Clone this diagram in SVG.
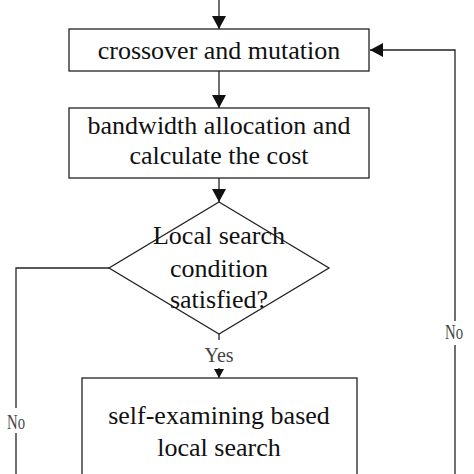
<svg xmlns="http://www.w3.org/2000/svg" width="474" height="474" viewBox="0 0 474 474">
<style>
.box{fill:#fff;stroke:#222;stroke-width:1.3}
.ln{fill:none;stroke:#222;stroke-width:1.3}
.t{font-family:"Liberation Serif",serif;font-size:26px;fill:#111;text-anchor:middle}
.lbl{font-family:"Liberation Serif",serif;font-size:20px;fill:#444;text-anchor:middle}
</style>
<defs>
<marker id="ah" markerWidth="14" markerHeight="14" refX="13" refY="7" orient="auto" markerUnits="userSpaceOnUse">
<path d="M0,0 L13,7 L0,14 Z" fill="#111"/>
</marker>
<marker id="ahs" markerWidth="10" markerHeight="10" refX="9" refY="5" orient="auto" markerUnits="userSpaceOnUse">
<path d="M0,0 L9,5 L0,10 Z" fill="#111"/>
</marker>
</defs>
<g id="connectors">
<path class="ln" d="M219,0 V29" marker-end="url(#ah)"/>
<path class="ln" d="M219,71 V108" marker-end="url(#ah)"/>
<path class="ln" d="M219,178 V202" marker-end="url(#ah)"/>
<path class="ln" d="M219,334 V340"/>
<path class="ln" d="M219,368 V378" marker-end="url(#ahs)"/>
<path class="ln" d="M109,268 H16 V408"/>
<path class="ln" d="M16,433 V474"/>
<path class="ln" d="M455,474 V345"/>
<path class="ln" d="M455,321 V50 H370" marker-end="url(#ah)"/>
<text class="lbl" x="219" y="362" textLength="29" lengthAdjust="spacingAndGlyphs">Yes</text>
<text class="lbl" x="16" y="429" textLength="18" lengthAdjust="spacingAndGlyphs">No</text>
<text class="lbl" x="454" y="339" textLength="18" lengthAdjust="spacingAndGlyphs">No</text>
</g>
<g id="crossover">
<rect class="box" x="69" y="29" width="300" height="42"/>
<text class="t" x="219" y="59">crossover and mutation</text>
</g>
<g id="bandwidth">
<rect class="box" x="69" y="108" width="300" height="70"/>
<text class="t" x="219" y="134">bandwidth allocation and</text>
<text class="t" x="219" y="164">calculate the cost</text>
</g>
<g id="decision">
<path class="box" d="M219,202 L329,268 L219,334 L109,268 Z"/>
<text class="t" x="219" y="244">Local search</text>
<text class="t" x="219" y="277">condition</text>
<text class="t" x="219" y="308">satisfied?</text>
</g>
<g id="localsearch">
<rect class="box" x="82" y="378" width="275" height="110"/>
<text class="t" x="219" y="424">self-examining based</text>
<text class="t" x="219" y="456">local search</text>
</g>
</svg>
